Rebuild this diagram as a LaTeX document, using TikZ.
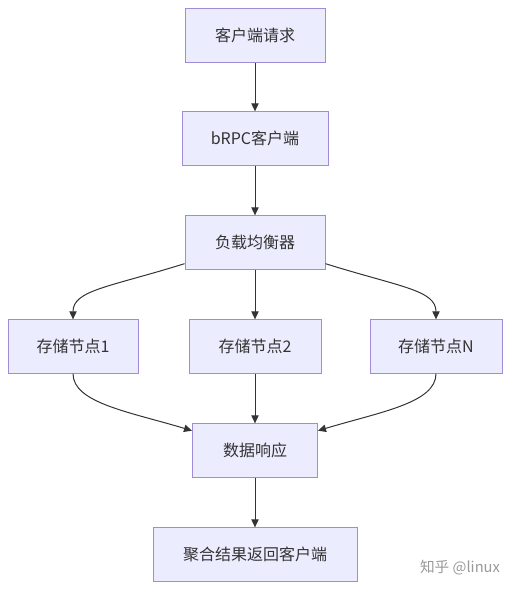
\documentclass[tikz,border=0pt]{standalone}
\usepackage{fontspec}
\setmainfont{Noto Sans CJK SC}
\usetikzlibrary{arrows.meta}
\definecolor{boxfill}{HTML}{ECECFF}
\definecolor{boxline}{HTML}{A08CD8}
\definecolor{edge}{HTML}{333333}
\tikzstyle{stepbox}=[draw=boxline, fill=boxfill, line width=.75pt, minimum height=40pt, inner sep=0pt, font=\fontsize{12pt}{14pt}\selectfont, text=black!80]
\tikzstyle{flow}=[draw=edge, line width=.75pt, -{Triangle[length=6pt,width=5.5pt]}]

\begin{document}
\begin{tikzpicture}[x=.75pt, y=-.75pt]
    \useasboundingbox (0,0) rectangle (514,590);
    \node[stepbox, minimum width=105pt] (req) at (255,35.5) {客户端请求};
    \node[stepbox, minimum width=109.5pt] (cli) at (255,138.5) {bRPC客户端};
    \node[stepbox, minimum width=105pt] (lb) at (255,242.5) {负载均衡器};
    \node[stepbox, minimum width=97.5pt] (s1) at (73,346.5) {存储节点1};
    \node[stepbox, minimum width=99pt] (s2) at (255,346.5) {存储节点2};
    \node[stepbox, minimum width=99pt] (sn) at (436,346.5) {存储节点N};
    \node[stepbox, minimum width=93.75pt] (resp) at (255,450.5) {数据响应};
    \node[stepbox, minimum width=153pt] (agg) at (255,554.5) {聚合结果返回客户端};
    \node[text=black!40, font=\fontsize{11pt}{13pt}\selectfont] (mark) at (460,568) {知乎 @linux};
    \foreach \from/\to in
      {req/cli, cli/lb, lb/s2, s2/resp, resp/agg}
    \draw[flow] (\from) -- (\to);
    \draw[flow] ([yshift=4.5pt]lb.south west) .. controls (110,287) and (73,290) .. (s1.north);
    \draw[flow] ([yshift=4.5pt]lb.south east) .. controls (400,287) and (436,290) .. (sn.north);
    \draw[flow] (s1.south) .. controls (73,403) and (130,412) .. ([yshift=-5.5pt]resp.north west);
    \draw[flow] (sn.south) .. controls (436,403) and (380,412) .. ([yshift=-5.5pt]resp.north east);
\end{tikzpicture}
\end{document}
